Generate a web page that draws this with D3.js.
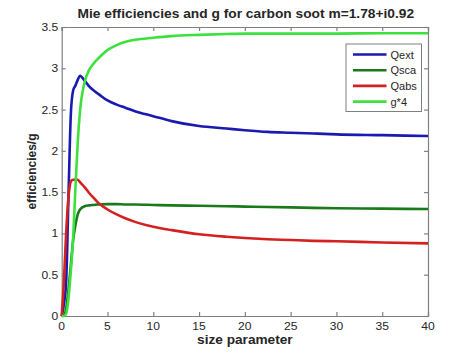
<!DOCTYPE html>
<html><head><meta charset="utf-8">
<script src="https://cdn.jsdelivr.net/npm/d3@7"></script>
<style>body{margin:0;background:#fff}svg{display:block}text{font-family:Arial,"Liberation Sans",sans-serif}</style>
</head><body><svg id="c" width="474" height="355"></svg>
<script>
const sizeParam = [0,0.25,0.5,0.75,1,1.25,1.5,1.75,2,2.5,3,3.5,4,5,6,7,8,10,12,15,18,20,22.5,25,27.5,30,35,40];
const qext = [0,0.15,0.45,1.5,2.45,2.73,2.79,2.86,2.91,2.85,2.78,2.73,2.69,2.61,2.56,2.52,2.48,2.42,2.36,2.30,2.27,2.25,2.23,2.22,2.21,2.20,2.19,2.18];
const qsca = [0,0.01,0.1,0.33,0.62,0.92,1.1,1.23,1.29,1.33,1.34,1.345,1.35,1.355,1.355,1.35,1.35,1.345,1.34,1.335,1.33,1.325,1.32,1.315,1.31,1.305,1.30,1.295];
const qabs = [0,0.44,1.04,1.45,1.63,1.65,1.65,1.65,1.62,1.56,1.49,1.43,1.37,1.29,1.23,1.18,1.14,1.08,1.04,0.99,0.96,0.945,0.93,0.92,0.91,0.905,0.89,0.88];
const g4 = [0,0,0.03,0.22,0.55,0.95,1.55,2.1,2.48,2.83,2.98,3.06,3.12,3.22,3.28,3.32,3.345,3.37,3.39,3.405,3.415,3.42,3.42,3.42,3.42,3.42,3.425,3.425];
const seriesNames = ["Qext","Qsca","Qabs","g*4"];
const seriesValues = [qext,qsca,qabs,g4];
const seriesColors = ["#1a1ab0","#1a7a1a","#d42020","#3ee03e"];
const xTicks = [0,5,10,15,20,25,30,35,40];
const yTicks = [0,0.5,1,1.5,2,2.5,3,3.5];
const titleText = "Mie efficiencies and g for carbon soot m=1.78+i0.92";
const xLabel = "size parameter";
const yLabel = "efficiencies/g";

const svg = d3.select("#c");
const L=61.7, R=428, T=27, B=316, SX=1.12, axisCol="#808080", txtCol="#262626";
const x = d3.scaleLinear().domain([0,40]).range([L,R]);
const y = d3.scaleLinear().domain([0,3.5]).range([B,T]);

function stext(g,tx,ty,str,size,weight,anchor){
  return g.append("text").attr("transform",`translate(${tx},${ty}) scale(${SX},1)`)
    .attr("font-size",size).attr("font-weight",weight||"normal").attr("text-anchor",anchor||"middle")
    .attr("fill",txtCol).text(str);
}

svg.append("rect").attr("x",L).attr("y",T).attr("width",R-L).attr("height",B-T).attr("fill","#fff");

const tl=4;
const gx = svg.append("g").attr("transform",`translate(0,${B})`)
  .call(d3.axisBottom(x).tickValues(xTicks).tickSize(-tl).tickFormat(""));
const gxt = svg.append("g").attr("transform",`translate(0,${T})`)
  .call(d3.axisTop(x).tickValues(xTicks).tickSize(-tl).tickFormat(""));
const gy = svg.append("g").attr("transform",`translate(${L},0)`)
  .call(d3.axisLeft(y).tickValues(yTicks).tickSize(-tl).tickFormat(""));
const gyr = svg.append("g").attr("transform",`translate(${R},0)`)
  .call(d3.axisRight(y).tickValues(yTicks).tickSize(-tl).tickFormat(""));
[gx,gxt,gy,gyr].forEach(g=>{g.selectAll("path,line").attr("stroke",axisCol).attr("stroke-width",1.2);});

const lab = svg.append("g");
xTicks.forEach(v=>stext(lab,x(v),B+13.5,String(v),10.8,"normal","middle"));
yTicks.forEach(v=>stext(lab,L-3.5,y(v)+4,String(v),10.8,"normal","end"));

const line = d3.line().x((d,i)=>x(sizeParam[i])).y(d=>y(d)).curve(d3.curveMonotoneX);
seriesValues.forEach((vals,k)=>{
  svg.append("path").datum(vals).attr("d",line).attr("fill","none")
    .attr("stroke",seriesColors[k]).attr("stroke-width",2.6).attr("stroke-linejoin","round");
});

stext(svg,(L+R)/2+1,18,titleText,12.3,"bold","middle");
stext(svg,(L+R)/2,344,xLabel,12.2,"bold","middle");
svg.append("text").attr("transform",`translate(36,${(T+B)/2}) rotate(-90)`)
  .attr("font-size",12).attr("font-weight","bold").attr("text-anchor","middle").attr("fill",txtCol).text(yLabel);

const lg = svg.append("g");
lg.append("rect").attr("x",346).attr("y",44).attr("width",75.5).attr("height",67.5)
  .attr("fill","#fff").attr("stroke",axisCol).attr("stroke-width",1);
seriesNames.forEach((n,k)=>{
  const yy = 54.5 + k*15.7;
  lg.append("line").attr("x1",353).attr("x2",386.5).attr("y1",yy).attr("y2",yy)
    .attr("stroke",seriesColors[k]).attr("stroke-width",2.6);
  lg.append("text").attr("x",390.5).attr("y",yy+4).attr("font-size",11).attr("fill",txtCol).text(n);
});
</script></body></html>
